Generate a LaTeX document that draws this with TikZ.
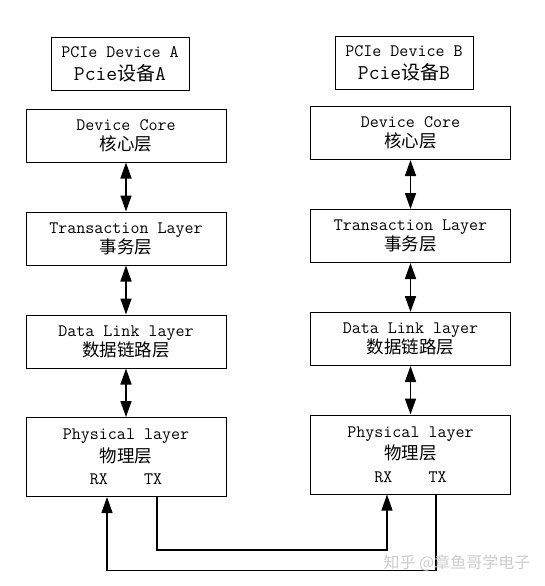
\documentclass[tikz,border=0pt]{standalone}
\usepackage{fontspec}
\usepackage{tikz}
\usetikzlibrary{arrows.meta}
\newfontfamily\cjk{Noto Sans CJK SC}
\tikzstyle{title} = [rectangle, minimum width=138pt, minimum height=52pt, text centered, align=center, draw=black, line width=1pt, font=\ttfamily\fontsize{17.5}{23}\selectfont]
\tikzstyle{layer} = [rectangle, minimum width=200pt, minimum height=53pt, text centered, align=center, draw=black, line width=1pt, font=\ttfamily\fontsize{17.5}{20}\selectfont]
\tikzstyle{phys} = [layer, minimum height=79pt, font=\ttfamily\fontsize{17.5}{22.5}\selectfont]
\tikzstyle{arrow} = [line width=1.6pt, {Triangle[length=16pt,width=11pt]}-{Triangle[length=16pt,width=11pt]}]
\tikzstyle{link} = [line width=1.1pt, -{Triangle[length=16pt,width=11pt]}]

\begin{document}
\begin{tikzpicture}[x=1pt, y=1pt, node distance=103pt]
		\useasboundingbox (0,0) rectangle (545,-586);
		% device A
		\node (titleA) [title] at (120,-64) {PCIe Device A\\{\fontsize{21}{23}\selectfont Pcie{\cjk\fontsize{19}{23}\selectfont 设备}A}};
		\node (coreA) [layer] at (126,-135.5) {Device Core\\{\cjk 核心层}};
		\node (transA) [layer, below of=coreA] {Transaction Layer\\{\cjk 事务层}};
		\node (dlA) [layer, below of=transA] {Data Link layer\\{\cjk 数据链路层}};
		\node (phyA) [phys, below of=dlA, node distance=115.5pt] {Physical layer\\{\cjk 物理层}\\RX\ \ \ \ TX};
		% device B
		\node (titleB) [title] at (404,-63) {PCIe Device B\\{\fontsize{21}{23}\selectfont Pcie{\cjk\fontsize{19}{23}\selectfont 设备}B}};
		\node (coreB) [layer] at (410.5,-133) {Device Core\\{\cjk 核心层}};
		\node (transB) [layer, below of=coreB] {Transaction Layer\\{\cjk 事务层}};
		\node (dlB) [layer, below of=transB] {Data Link layer\\{\cjk 数据链路层}};
		\node (phyB) [phys, below of=dlB, node distance=115.5pt] {Physical layer\\{\cjk 物理层}\\RX\ \ \ \ TX};
		
		\draw [arrow] (coreA) -- (transA);
		\draw [arrow] (transA) -- (dlA);
		\draw [arrow] (dlA) -- (phyA);
		\draw [arrow] (coreB) -- (transB);
		\draw [arrow] (transB) -- (dlB);
		\draw [arrow] (dlB) -- (phyB);
		% TX -> RX
		\draw [link] ([xshift=31pt]phyA.south) -- ++(0,-53pt) -| ([xshift=-23.5pt]phyB.south);
		\draw [link] ([xshift=25.5pt]phyB.south) -- ++(0,-76pt) -| ([xshift=-19pt]phyA.south);
		
		\node (mark) [anchor=west, text=gray!40, font=\cjk\fontsize{16}{16}\selectfont] at (380,-563) {知乎 @章鱼哥学电子};
	\end{tikzpicture}
\end{document}
